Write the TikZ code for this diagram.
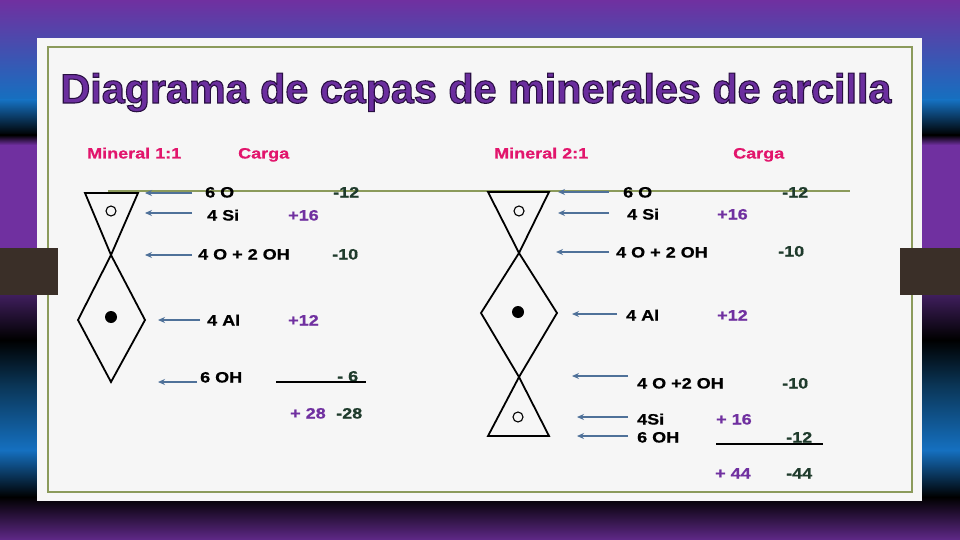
\documentclass[tikz,border=0pt]{standalone}
\usepackage{fontspec}
\setmainfont{Liberation Sans}
\newfontfamily\labfont[FakeStretch=1.2, FakeBold=0.6]{Liberation Sans Bold}
\newfontfamily\titlefont[FakeBold=2.6]{Liberation Sans Bold}
\usetikzlibrary{arrows.meta,positioning}

\definecolor{bgpurple}{HTML}{7030A0}
\definecolor{bgblue}{HTML}{1570C0}
\definecolor{bgdark}{HTML}{3F1E5C}
\definecolor{deepblue}{HTML}{0A3556}
\definecolor{tabbrown}{HTML}{3A2F28}
\definecolor{panelgray}{HTML}{F6F6F6}
\definecolor{olive}{HTML}{8B9A5B}
\definecolor{titlepurple}{HTML}{6A2F9A}
\definecolor{headred}{HTML}{E2156C}
\definecolor{chpurple}{HTML}{7030A0}
\definecolor{chgreen}{HTML}{1F3B2C}
\definecolor{arrowblue}{HTML}{4F7199}

% purple fill, dark stroke for the outlined title
\newcommand{\outlined}[1]{\special{pdf:bcolor [0.42 0.18 0.62] [0.16 0.06 0.26]}#1\special{pdf:ecolor}}

\tikzset{
  lbl/.style={anchor=west, inner sep=0pt, text height=11pt, text depth=0pt,
    font=\labfont\fontsize{15}{17}\selectfont},
  head/.style={lbl, text=headred},
  plus/.style={lbl, text=chpurple},
  minus/.style={lbl, text=chgreen},
  arr/.style={draw=arrowblue, line width=2pt, -{Stealth[length=7pt,width=6pt]}},
  layer/.style={draw=black, line width=1.8pt, line join=miter},
  sumline/.style={draw=black, line width=1.6pt},
}

\begin{document}
\begin{tikzpicture}[x=1pt, y=-1pt]
  \useasboundingbox (0,0) rectangle (960,540);

  % Background bands
  \shade[top color=bgpurple, bottom color=bgblue] (0,0) rectangle (960,100);
  \shade[top color=bgblue, bottom color=black] (0,100) rectangle (960,135);
  \shade[top color=black, bottom color=bgpurple] (0,135) rectangle (960,145);
  \fill[bgpurple] (0,145) rectangle (960,248);
  \shade[top color=bgdark, bottom color=black] (0,295) rectangle (960,340);
  \shade[top color=black, bottom color=deepblue] (0,340) rectangle (960,385);
  \shade[top color=deepblue, bottom color=bgblue] (0,385) rectangle (960,450);
  \shade[top color=bgblue, bottom color=black] (0,450) rectangle (960,497);
  \shade[top color=black, bottom color=bgpurple!85!black] (0,497) rectangle (960,540);

  % Panel
  \fill[panelgray] (37,38) rectangle (922,501);
  \draw[olive, line width=2.6pt] (48,47) rectangle (912,492);
  \fill[tabbrown] (0,248) rectangle (58,295);
  \fill[tabbrown] (900,248) rectangle (960,295);

  % Title
  \node[anchor=base, inner sep=0pt, text=titlepurple, font=\titlefont\fontsize{41.3}{44}\selectfont]
    (title) at (476,103) {\outlined{Diagrama de capas de minerales de arcilla}};

  % Top reference line
  \draw[olive, line width=1.4pt] (108,191) -- (850,191);

  % Mineral 1:1 -- layers
  \draw[layer] (85,193) -- (138,193) -- (111,255) -- cycle;
  \draw[layer] (111,255) -- (145,320) -- (111,382) -- (78,320) -- cycle;
  \draw[line width=1.1pt] (111,211) circle (5);
  \fill (111,317) circle (6);

  % Mineral 1:1 -- labels
  \node[head] (m11) at (87,153) {Mineral 1:1};
  \node[head] (c11) at (238,153) {Carga};
  \node[lbl] (a6o)   at (205,192) {6 O};
  \node[lbl] (a4si)  at (207,215) {4 Si};
  \node[lbl] (a4o)   at (198,254) {4 O + 2 OH};
  \node[lbl] (a4al)  at (207,320) {4 Al};
  \node[lbl] (a6oh)  at (200,377) {6 OH};
  \node[minus] (qa1) at (333,192) {-12};
  \node[plus] (qa2) at (288,215) {+16};
  \node[minus] (qa3) at (332,254) {-10};
  \node[plus] (qa4) at (288,320) {+12};
  \node[minus] (qa5) at (337,376) {- 6};
  \node[plus] (qa6) at (290,413) {+ 28};
  \node[minus] (qa7) at (336,413) {-28};

  % Mineral 1:1 -- arrows
  \coordinate (as1) at (192,193); \coordinate (ae1) at (145,193);
  \coordinate (as2) at (192,213); \coordinate (ae2) at (145,213);
  \coordinate (as3) at (192,255); \coordinate (ae3) at (145,255);
  \coordinate (as4) at (200,320); \coordinate (ae4) at (158,320);
  \coordinate (as5) at (197,382); \coordinate (ae5) at (158,382);
  \foreach \k in {1,...,5}
    \draw[arr] (as\k) -- (ae\k);
  \coordinate (sa1) at (276,382); \coordinate (sa2) at (366,382);
  \draw[sumline] (sa1) -- (sa2);

  % Mineral 2:1 -- layers
  \draw[layer] (488,192) -- (549,192) -- (519,253) -- cycle;
  \draw[layer] (519,253) -- (557,313) -- (519,377) -- (481,313) -- cycle;
  \draw[layer] (519,377) -- (549,436) -- (488,436) -- cycle;
  \draw[line width=1.1pt] (519,211) circle (5);
  \fill (518,312) circle (6);
  \draw[line width=1.1pt] (518,417) circle (5);

  % Mineral 2:1 -- labels
  \node[head] (m21) at (494,153) {Mineral 2:1};
  \node[head] (c21) at (733,153) {Carga};
  \node[lbl] (b6o)   at (623,192) {6 O};
  \node[lbl] (b4si)  at (627,214) {4 Si};
  \node[lbl] (b4o)   at (616,252) {4 O + 2 OH};
  \node[lbl] (b4al)  at (626,315) {4 Al};
  \node[lbl] (b4ob)  at (637,383) {4 O +2 OH};
  \node[lbl] (b4sib) at (637,419) {4Si};
  \node[lbl] (b6oh)  at (637,437) {6 OH};
  \node[minus] (qb1) at (782,192) {-12};
  \node[plus] (qb2) at (717,214) {+16};
  \node[minus] (qb3) at (778,251) {-10};
  \node[plus] (qb4) at (717,315) {+12};
  \node[minus] (qb5) at (782,383) {-10};
  \node[plus] (qb6) at (716,419) {+ 16};
  \node[minus] (qb7) at (786,437) {-12};
  \node[plus] (qb8) at (715,473) {+ 44};
  \node[minus] (qb9) at (786,473) {-44};

  % Mineral 2:1 -- arrows
  \coordinate (bs1) at (609,192); \coordinate (be1) at (558,192);
  \coordinate (bs2) at (609,213); \coordinate (be2) at (558,213);
  \coordinate (bs3) at (609,252); \coordinate (be3) at (556,252);
  \coordinate (bs4) at (617,314); \coordinate (be4) at (572,314);
  \coordinate (bs5) at (628,376); \coordinate (be5) at (572,376);
  \coordinate (bs6) at (628,417); \coordinate (be6) at (577,417);
  \coordinate (bs7) at (628,436); \coordinate (be7) at (577,436);
  \foreach \k in {1,...,7}
    \draw[arr] (bs\k) -- (be\k);
  \coordinate (sb1) at (716,444); \coordinate (sb2) at (823,444);
  \draw[sumline] (sb1) -- (sb2);
\end{tikzpicture}
\end{document}
